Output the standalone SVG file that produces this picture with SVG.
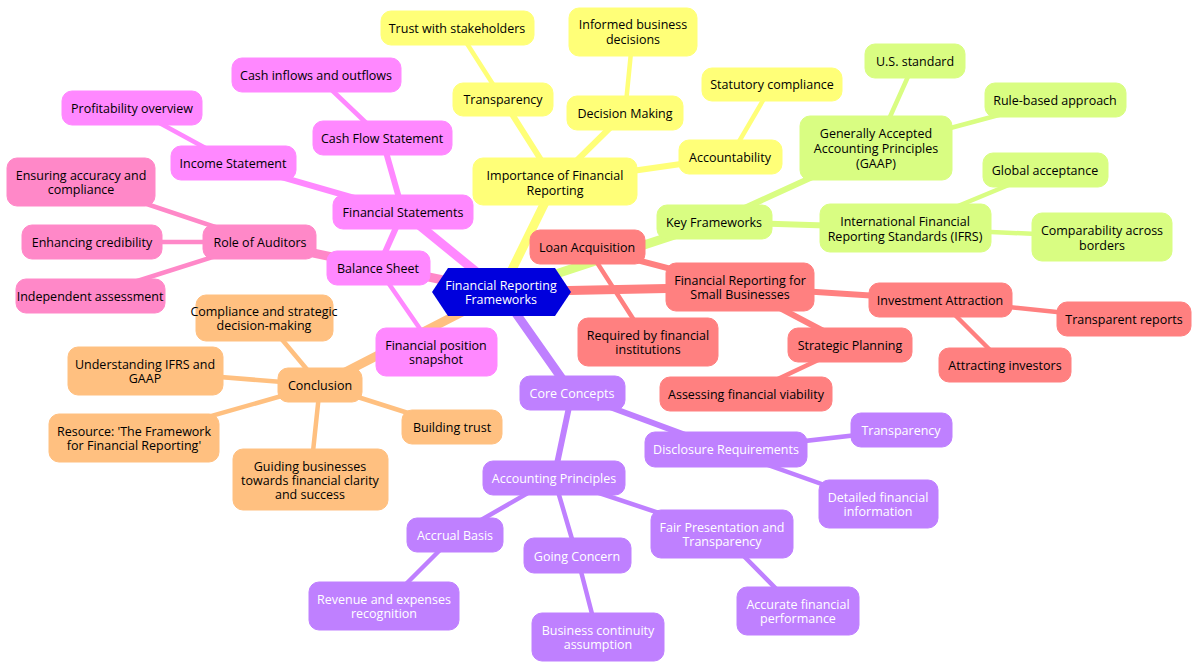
<svg xmlns="http://www.w3.org/2000/svg" width="1200" height="669" viewBox="0 0 1200 669">
<style>
text{font-family:"Open Sans","Liberation Sans",sans-serif;font-size:12.5px;text-anchor:middle;dominant-baseline:central;fill:#000}
.w{fill:#fff}
.e1{stroke-width:9;fill:none;stroke-linecap:round}
.e2{stroke-width:6;fill:none}
.e3{stroke-width:4.5;fill:none}
.y{fill:#ffff78;stroke:#ffff78}.g{fill:#d9fd82;stroke:#d9fd82}.r{fill:#ff8080;stroke:#ff8080}.m{fill:#ff88ff;stroke:#ff88ff}.p{fill:#ff88c8;stroke:#ff88c8}.o{fill:#ffc080;stroke:#ffc080}.v{fill:#bf80ff;stroke:#bf80ff}
.ly{stroke:#ffff78}.lg{stroke:#d9fd82}.lr{stroke:#ff8080}.lm{stroke:#ff88ff}.lp{stroke:#ff88c8}.lo{stroke:#ffc080}.lv{stroke:#bf80ff}
</style>
<g id="connectors">
<path class="e1 ly" d="M501,292 L555,182"/>
<path class="e1 lg" d="M501,292 L714,222"/>
<path class="e1 lr" d="M501,292 L740,287"/>
<path class="e1 lm" d="M501,292 L403,212"/>
<path class="e1 lp" d="M501,292 L260,242"/>
<path class="e1 lo" d="M501,292 L320,385"/>
<path class="e1 lv" d="M501,292 L572,393"/>
<path class="e2 ly" d="M555,182 L503,100 M555,182 L625,113 M555,182 L730,157"/>
<path class="e3 ly" d="M503,100 L457,28 M625,113 L633,32 M730,157 L772,85"/>
<path class="e2 lg" d="M714,222 L876,148 M714,222 L905,228"/>
<path class="e3 lg" d="M876,148 L915,61 M876,148 L1055,100 M905,228 L1045,170 M905,228 L1102,237"/>
<path class="e2 lr" d="M740,287 L587,247 M740,287 L850,345 M740,287 L940,300"/>
<path class="e3 lr" d="M587,247 L648,342 M850,345 L746,394 M940,300 L1124,319 M940,300 L1005,365"/>
<path class="e2 lm" d="M403,212 L382,138 M403,212 L233,163 M403,212 L378,268"/>
<path class="e3 lm" d="M382,138 L316,75 M233,163 L132,108 M378,268 L436,352"/>
<path class="e3 lp" d="M260,242 L81,182 M260,242 L92,242 M260,242 L90,296"/>
<path class="e3 lo" d="M320,385 L264,318 M320,385 L145,371 M320,385 L134,438 M320,385 L310,480 M320,385 L452,427"/>
<path class="e2 lv" d="M572,393 L726,450 M572,393 L554,478"/>
<path class="e3 lv" d="M726,450 L901,430 M726,450 L878,504 M554,478 L455,535 M554,478 L577,556 M554,478 L722,534 M455,535 L384,606 M577,556 L598,637 M722,534 L798,611"/>
</g>
<g id="center"><polygon points="448,268 555,268 571,292 555,316 448,316 432,292" fill="#0000dd"/><text class="w" x="501" y="285">Financial Reporting</text><text class="w" x="501" y="299">Frameworks</text></g>
<g id="n-importance"><rect class="y" x="473" y="158" width="164" height="47" rx="10"/><text x="555" y="175">Importance of Financial</text><text x="555" y="190">Reporting</text></g>
<g id="n-transp1"><rect class="y" x="453" y="83" width="100" height="33" rx="10"/><text x="503" y="99">Transparency</text></g>
<g id="n-trust"><rect class="y" x="381" y="11" width="153" height="34" rx="10"/><text x="457" y="28">Trust with stakeholders</text></g>
<g id="n-decision"><rect class="y" x="567" y="96" width="116" height="34" rx="10"/><text x="625" y="113">Decision Making</text></g>
<g id="n-informed"><rect class="y" x="569" y="8" width="128" height="48" rx="10"/><text x="633" y="24">Informed business</text><text x="633" y="39">decisions</text></g>
<g id="n-account"><rect class="y" x="679" y="140" width="103" height="34" rx="10"/><text x="730" y="157">Accountability</text></g>
<g id="n-statutory"><rect class="y" x="702" y="68" width="140" height="33" rx="10"/><text x="772" y="84">Statutory compliance</text></g>
<g id="n-key"><rect class="g" x="657" y="205" width="115" height="34" rx="10"/><text x="714" y="222">Key Frameworks</text></g>
<g id="n-gaap"><rect class="g" x="800" y="116" width="152" height="64" rx="10"/><text x="876" y="133">Generally Accepted</text><text x="876" y="148">Accounting Principles</text><text x="876" y="163">(GAAP)</text></g>
<g id="n-us"><rect class="g" x="865" y="44" width="100" height="34" rx="10"/><text x="915" y="61">U.S. standard</text></g>
<g id="n-rule"><rect class="g" x="985" y="83" width="141" height="34" rx="10"/><text x="1055" y="100">Rule-based approach</text></g>
<g id="n-ifrs"><rect class="g" x="820" y="204" width="171" height="48" rx="10"/><text x="905" y="221">International Financial</text><text x="905" y="236">Reporting Standards (IFRS)</text></g>
<g id="n-global"><rect class="g" x="983" y="153" width="125" height="34" rx="10"/><text x="1045" y="170">Global acceptance</text></g>
<g id="n-compar"><rect class="g" x="1032" y="213" width="140" height="48" rx="10"/><text x="1102" y="230">Comparability across</text><text x="1102" y="245">borders</text></g>
<g id="n-loan"><rect class="r" x="530" y="230" width="115" height="34" rx="10"/><text x="587" y="247">Loan Acquisition</text></g>
<g id="n-frsb"><rect class="r" x="666" y="263" width="148" height="48" rx="10"/><text x="740" y="280">Financial Reporting for</text><text x="740" y="294">Small Businesses</text></g>
<g id="n-required"><rect class="r" x="578" y="318" width="140" height="48" rx="10"/><text x="648" y="335">Required by financial</text><text x="648" y="349">institutions</text></g>
<g id="n-strategic"><rect class="r" x="788" y="328" width="124" height="34" rx="10"/><text x="850" y="345">Strategic Planning</text></g>
<g id="n-assess"><rect class="r" x="660" y="377" width="172" height="34" rx="10"/><text x="746" y="394">Assessing financial viability</text></g>
<g id="n-invest"><rect class="r" x="869" y="283" width="143" height="34" rx="10"/><text x="940" y="300">Investment Attraction</text></g>
<g id="n-transpr"><rect class="r" x="1057" y="302" width="134" height="34" rx="10"/><text x="1124" y="319">Transparent reports</text></g>
<g id="n-attract"><rect class="r" x="939" y="348" width="132" height="34" rx="10"/><text x="1005" y="365">Attracting investors</text></g>
<g id="n-fs"><rect class="m" x="333" y="195" width="140" height="34" rx="10"/><text x="403" y="212">Financial Statements</text></g>
<g id="n-cfs"><rect class="m" x="313" y="121" width="139" height="34" rx="10"/><text x="382" y="138">Cash Flow Statement</text></g>
<g id="n-cash"><rect class="m" x="232" y="58" width="169" height="34" rx="10"/><text x="316" y="75">Cash inflows and outflows</text></g>
<g id="n-income"><rect class="m" x="171" y="146" width="125" height="34" rx="10"/><text x="233" y="163">Income Statement</text></g>
<g id="n-profit"><rect class="m" x="62" y="91" width="140" height="34" rx="10"/><text x="132" y="108">Profitability overview</text></g>
<g id="n-balance"><rect class="m" x="327" y="251" width="103" height="34" rx="10"/><text x="378" y="268">Balance Sheet</text></g>
<g id="n-position"><rect class="m" x="376" y="328" width="121" height="48" rx="10"/><text x="436" y="345">Financial position</text><text x="436" y="359">snapshot</text></g>
<g id="n-auditors"><rect class="p" x="203" y="225" width="113" height="34" rx="10"/><text x="260" y="242">Role of Auditors</text></g>
<g id="n-ensure"><rect class="p" x="7" y="158" width="148" height="48" rx="10"/><text x="81" y="175">Ensuring accuracy and</text><text x="81" y="189">compliance</text></g>
<g id="n-enhance"><rect class="p" x="22" y="225" width="140" height="34" rx="10"/><text x="92" y="242">Enhancing credibility</text></g>
<g id="n-indep"><rect class="p" x="16" y="279" width="149" height="34" rx="10"/><text x="90" y="296">Independent assessment</text></g>
<g id="n-concl"><rect class="o" x="278" y="368" width="84" height="34" rx="10"/><text x="320" y="385">Conclusion</text></g>
<g id="n-compl"><rect class="o" x="196" y="295" width="137" height="46" rx="10"/><text x="264" y="311">Compliance and strategic</text><text x="264" y="325">decision-making</text></g>
<g id="n-underst"><rect class="o" x="68" y="347" width="155" height="48" rx="10"/><text x="145" y="364">Understanding IFRS and</text><text x="145" y="378">GAAP</text></g>
<g id="n-resource"><rect class="o" x="49" y="414" width="170" height="48" rx="10"/><text x="134" y="431">Resource: 'The Framework</text><text x="134" y="445">for Financial Reporting'</text></g>
<g id="n-guide"><rect class="o" x="233" y="449" width="155" height="61" rx="10"/><text x="310" y="466">Guiding businesses</text><text x="310" y="480">towards financial clarity</text><text x="310" y="494">and success</text></g>
<g id="n-build"><rect class="o" x="402" y="410" width="100" height="34" rx="10"/><text x="452" y="427">Building trust</text></g>
<g id="n-core"><rect class="v" x="520" y="376" width="105" height="34" rx="10"/><text class="w" x="572" y="393">Core Concepts</text></g>
<g id="n-disc"><rect class="v" x="645" y="432" width="162" height="35" rx="10"/><text class="w" x="726" y="449">Disclosure Requirements</text></g>
<g id="n-transp2"><rect class="v" x="851" y="413" width="101" height="34" rx="10"/><text class="w" x="901" y="430">Transparency</text></g>
<g id="n-detail"><rect class="v" x="819" y="480" width="119" height="48" rx="10"/><text class="w" x="878" y="497">Detailed financial</text><text class="w" x="878" y="511">information</text></g>
<g id="n-acc"><rect class="v" x="483" y="461" width="142" height="34" rx="10"/><text class="w" x="554" y="478">Accounting Principles</text></g>
<g id="n-accrual"><rect class="v" x="407" y="518" width="96" height="34" rx="10"/><text class="w" x="455" y="535">Accrual Basis</text></g>
<g id="n-revenue"><rect class="v" x="309" y="582" width="150" height="48" rx="10"/><text class="w" x="384" y="599">Revenue and expenses</text><text class="w" x="384" y="613">recognition</text></g>
<g id="n-going"><rect class="v" x="524" y="538" width="107" height="35" rx="10"/><text class="w" x="577" y="556">Going Concern</text></g>
<g id="n-cont"><rect class="v" x="532" y="613" width="132" height="48" rx="10"/><text class="w" x="598" y="630">Business continuity</text><text class="w" x="598" y="644">assumption</text></g>
<g id="n-fair"><rect class="v" x="651" y="510" width="142" height="48" rx="10"/><text class="w" x="722" y="527">Fair Presentation and</text><text class="w" x="722" y="541">Transparency</text></g>
<g id="n-accurate"><rect class="v" x="737" y="587" width="122" height="48" rx="10"/><text class="w" x="798" y="604">Accurate financial</text><text class="w" x="798" y="618">performance</text></g>
</svg>
